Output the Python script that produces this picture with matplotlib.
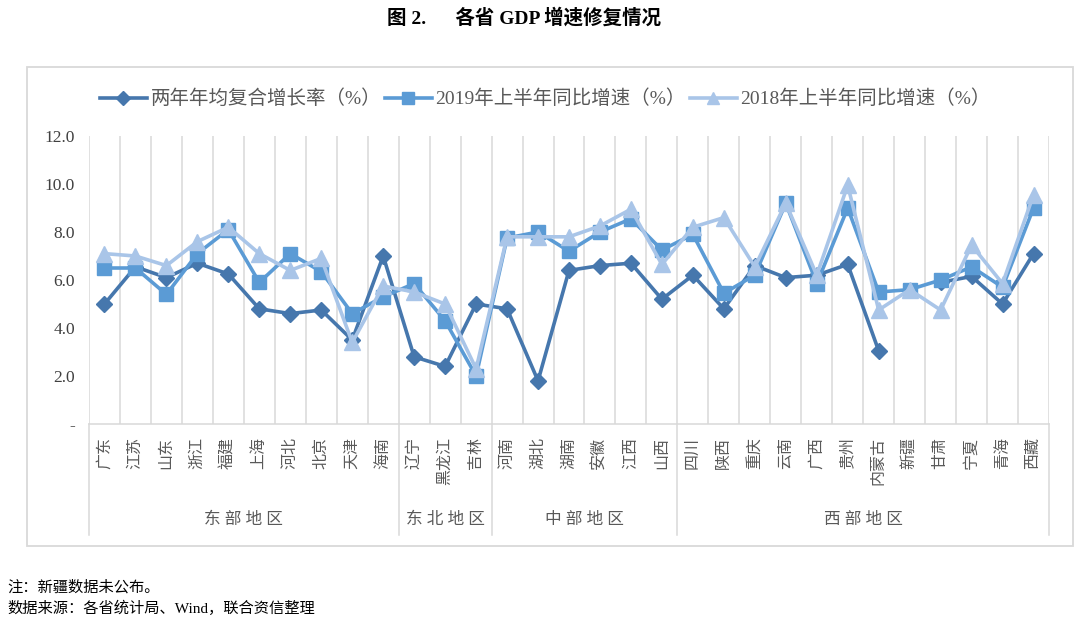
import numpy as np
import matplotlib
matplotlib.use("Agg")
from matplotlib import pyplot as plt
from matplotlib.patches import Rectangle
from matplotlib.lines import Line2D

plt.rcParams['font.family'] = ['Liberation Serif', 'Noto Sans CJK SC', 'DejaVu Sans']

provinces = ['广东', '江苏', '山东', '浙江', '福建', '上海', '河北', '北京', '天津', '海南',
             '辽宁', '黑龙江', '吉林',
             '河南', '湖北', '湖南', '安徽', '江西', '山西',
             '四川', '陕西', '重庆', '云南', '广西', '贵州', '内蒙古', '新疆', '甘肃', '宁夏', '青海', '西藏']

# 两年年均复合增长率（%），新疆未公布
cagr = [5.0, 6.55, 6.1, 6.7, 6.25, 4.8, 4.6, 4.75, 3.5, 7.0,
        2.8, 2.4, 5.0,
        4.8, 1.8, 6.4, 6.6, 6.7, 5.2,
        6.2, 4.8, 6.6, 6.1, 6.2, 6.65, 3.05, np.nan, 5.9, 6.15, 5.0, 7.1]
g2019 = [6.5, 6.5, 5.4, 7.1, 8.1, 5.9, 7.1, 6.35, 4.6, 5.3,
         5.85, 4.3, 2.0,
         7.75, 8.0, 7.2, 8.0, 8.55, 7.25,
         7.9, 5.45, 6.2, 9.2, 5.85, 9.0, 5.5, 5.6, 6.0, 6.55, 5.7, 9.0]
g2018 = [7.1, 7.0, 6.6, 7.6, 8.2, 7.1, 6.4, 6.9, 3.4, 5.75,
         5.5, 5.0, 2.3,
         7.8, 7.8, 7.8, 8.25, 8.95, 6.65,
         8.2, 8.6, 6.55, 9.2, 6.2, 9.95, 4.75, 5.6, 4.75, 7.45, 5.85, 9.55]

groups = ['东 部 地 区', '东 北 地 区', '中 部 地 区', '西 部 地 区']
group_sizes = [10, 3, 6, 12]

yticks = [0, 2, 4, 6, 8, 10, 12]

c_cagr = '#4677AD'
c_2019 = '#5B9BD5'
c_2018 = '#A9C5E8'
grid_c = '#D9D9D9'

fig = plt.figure(figsize=(10.8, 6.21), dpi=100)
ax = fig.add_axes([0.0824, 0.3172, 0.8889, 0.4638])

x = np.arange(len(provinces))
ax.plot(x, cagr, color=c_cagr, lw=2.6, marker='D', ms=8.5, label='两年年均复合增长率（%）')
ax.plot(x, g2019, color=c_2019, lw=2.6, marker='s', ms=9.5, label='2019年上半年同比增速（%）')
ax.plot(x, g2018, color=c_2018, lw=2.6, marker='^', ms=11, label='2018年上半年同比增速（%）')

ax.set_xlim(-0.5, len(provinces) - 0.5)
ax.set_ylim(0, 12)
ax.set_yticks(yticks)
ax.set_yticklabels(['-' if v == 0 else f'{v:.1f}' for v in yticks], fontsize=12.5, color='#404040')
ax.tick_params(axis='y', length=0, pad=10)

ax.set_xticks(x)
ax.set_xticklabels(provinces, rotation=90, fontsize=11.5, color='#595959')
ax.tick_params(axis='x', length=0, pad=9)
ax.set_xticks(np.arange(len(provinces) + 1) - 0.5, minor=True)
ax.tick_params(axis='x', which='minor', length=0)
ax.grid(axis='x', which='minor', color=grid_c, lw=1.1)
ax.set_axisbelow(True)

for s in ['top', 'right', 'left']:
    ax.spines[s].set_visible(False)
ax.spines['bottom'].set_color(grid_c)
ax.spines['bottom'].set_linewidth(1.1)

# group separators and labels below the axis
bounds = np.concatenate([[0], np.cumsum(group_sizes)]) - 0.5
tr = ax.get_xaxis_transform()
for b in bounds:
    ax.add_line(Line2D([b, b], [0, -0.385], transform=tr, color=grid_c, lw=1.1, clip_on=False))
for g, lo, hi in zip(groups, bounds[:-1], bounds[1:]):
    ax.text((lo + hi) / 2, -0.333, g, transform=tr, ha='center', va='center',
            fontsize=12, color='#595959')

ax.legend(loc='center', bbox_to_anchor=(0.505, 0.8406), bbox_transform=fig.transFigure,
          ncol=3, frameon=False, fontsize=14, handlelength=2.4, columnspacing=0.2,
          handletextpad=0.2, labelcolor='#595959', markerscale=0.85)

# outer chart frame
fig.patches.append(Rectangle((0.025, 0.1208), 0.9685, 0.7712, transform=fig.transFigure,
                             fill=False, edgecolor=grid_c, lw=1.3))

fig.text(0.485, 0.972, '图 2.      各省 GDP 增速修复情况', ha='center', va='center',
         fontsize=14, fontweight='bold')
fig.text(0.007, 0.055, '注：新疆数据未公布。', ha='left', va='center', fontsize=11)
fig.text(0.007, 0.021, '数据来源：各省统计局、Wind，联合资信整理', ha='left', va='center', fontsize=11)

fig.savefig('out.png', dpi=100)
